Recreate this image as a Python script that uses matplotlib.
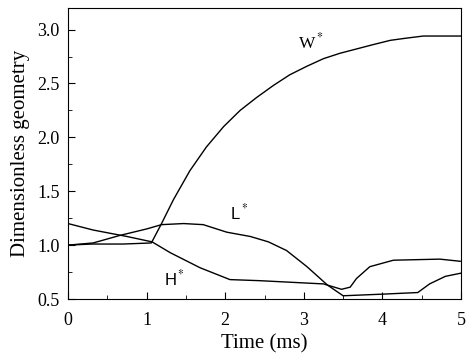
import matplotlib
matplotlib.use("Agg")
import matplotlib.pyplot as plt
from matplotlib.ticker import MultipleLocator, FuncFormatter

w_t = [0.0, 0.3, 0.7, 1.06, 1.19, 1.34, 1.55, 1.76, 1.98, 2.19, 2.40, 2.61, 2.82, 3.04, 3.25, 3.46, 3.67, 3.88, 4.10, 4.30, 4.52, 5.0]
w_v = [1.0, 1.01, 1.01, 1.02, 1.20, 1.42, 1.69, 1.91, 2.10, 2.25, 2.37, 2.48, 2.58, 2.66, 2.73, 2.78, 2.82, 2.86, 2.90, 2.92, 2.94, 2.94]

l_t = [0.0, 0.32, 0.66, 1.0, 1.19, 1.47, 1.72, 2.02, 2.32, 2.55, 2.78, 3.04, 3.3, 3.5, 4.0, 4.45, 4.6, 4.8, 5.0]
l_v = [1.0, 1.02, 1.09, 1.15, 1.19, 1.20, 1.19, 1.12, 1.08, 1.03, 0.95, 0.80, 0.63, 0.53, 0.545, 0.56, 0.64, 0.71, 0.74]

h_t = [0.0, 0.32, 0.75, 1.07, 1.3, 1.68, 2.06, 2.44, 3.25, 3.48, 3.59, 3.67, 3.84, 4.14, 4.73, 4.99]
h_v = [1.2, 1.14, 1.08, 1.03, 0.93, 0.79, 0.68, 0.67, 0.64, 0.59, 0.61, 0.69, 0.80, 0.86, 0.87, 0.85]

plt.rcParams['font.family'] = ['Liberation Serif', 'DejaVu Serif']
plt.rcParams['mathtext.fontset'] = 'stix'

fig = plt.figure(figsize=(4.74, 3.56), dpi=100)
ax = fig.add_axes([0.1435, 0.1601, 0.8291, 0.8174])

for t, v in [(w_t, w_v), (l_t, l_v), (h_t, h_v)]:
    ax.plot(t, v, color='black', lw=1.0)

ax.text(3.09, 2.88, r'W$^*$', fontsize=12.5, ha='center', va='center')
ax.text(2.18, 1.30, r'L$^*$', fontsize=12, ha='center', va='center',
        family=['Liberation Sans', 'DejaVu Sans'])
ax.text(1.36, 0.69, r'H$^*$', fontsize=12, ha='center', va='center',
        family=['Liberation Sans', 'DejaVu Sans'])

ax.set_xlim(0, 5)
ax.set_ylim(0.5, 3.2)
ax.xaxis.set_major_locator(MultipleLocator(1))
ax.xaxis.set_minor_locator(MultipleLocator(0.5))
ax.yaxis.set_major_locator(MultipleLocator(0.5))
ax.yaxis.set_minor_locator(MultipleLocator(0.25))
ax.xaxis.set_major_formatter(FuncFormatter(lambda v, p: f"{v:.0f}"))
ax.yaxis.set_major_formatter(FuncFormatter(lambda v, p: f"{v:.1f}"))
ax.tick_params(which='both', direction='in', top=False, right=False, labelsize=13)
ax.tick_params(which='major', length=5)
ax.tick_params(which='minor', length=3)
ax.tick_params(axis='x', which='major', pad=9)
ax.tick_params(axis='y', which='major', pad=6)
ax.set_xlabel('Time (ms)', fontsize=15, labelpad=4)
ax.set_ylabel('Dimensionless geometry', fontsize=15, labelpad=5)

fig.savefig('out.png', dpi=100)
